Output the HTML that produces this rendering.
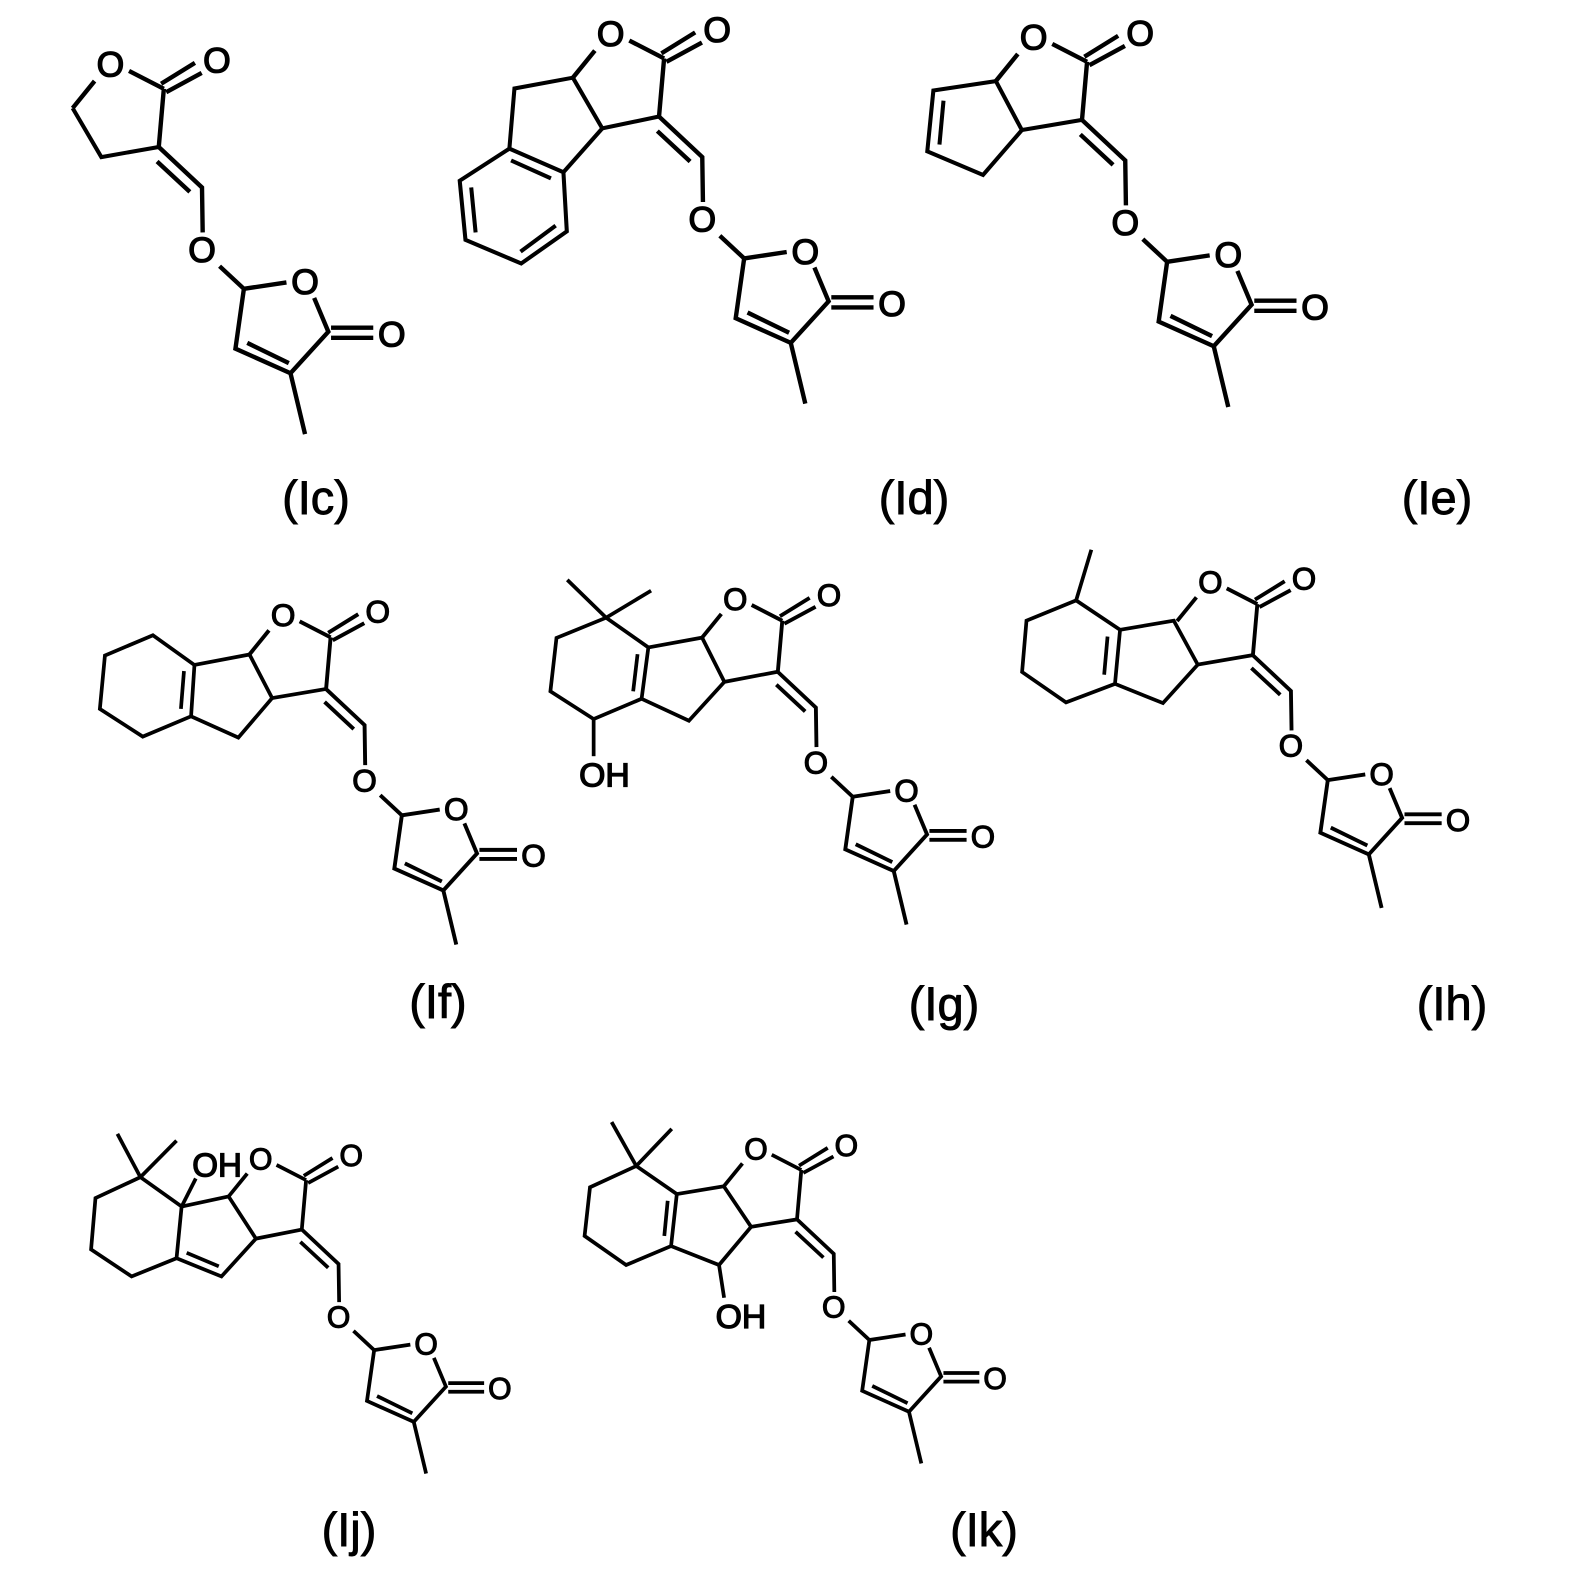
<!DOCTYPE html>
<html><head><meta charset="utf-8"><style>
html,body{margin:0;padding:0;background:#fff;}
svg{display:block;}
text{font-family:"Liberation Sans",Arial,sans-serif;fill:#000;stroke:#000;stroke-width:4;}
.lab text{stroke-width:0.9;}
</style></head><body>
<svg width="1587" height="1574" viewBox="0 0 1587 1574" xmlns="http://www.w3.org/2000/svg">
<defs>
<g id="m" fill="none" stroke="#000" stroke-width="13" stroke-linecap="butt" stroke-linejoin="miter">
<polyline points="-237,-592 -252,-420 -124,-300 -122,-167"/>
<line x1="-237" y1="-592" x2="-340" y2="-645"/>
<line x1="-245" y1="-607" x2="-145" y2="-669"/>
<line x1="-230" y1="-582" x2="-125" y2="-639"/>
<line x1="-442" y1="-615" x2="-507" y2="-535"/>
<line x1="-257" y1="-377" x2="-160" y2="-287"/>
<line x1="-72" y1="-67" x2="0" y2="0"/>
<line x1="0" y1="0" x2="126" y2="-19"/>
<polyline points="208,27 250,127 138,250 -25,177 0,0"/>
<line x1="258" y1="115" x2="383" y2="115"/>
<line x1="258" y1="145" x2="383" y2="145"/>
<line x1="10" y1="160" x2="133" y2="220"/>
<line x1="138" y1="250" x2="181" y2="430"/>
</g>
</defs>
<rect width="1587" height="1574" fill="#fff"/>

<!-- Ic -->
<g transform="translate(0,0) scale(0.3378)" fill="none" stroke="#000" stroke-width="12">
<polyline points="215,320 300,465 470,435"/>
<g transform="translate(722,855)"><use href="#m"/>
<text x="-395" y="-629" font-size="105" text-anchor="middle">O</text>
<text x="-80" y="-641" font-size="105" text-anchor="middle">O</text>
<text x="-124" y="-79" font-size="105" text-anchor="middle">O</text>
<text x="181" y="16" font-size="105" text-anchor="middle">O</text>
<text x="438" y="171" font-size="105" text-anchor="middle">O</text></g>
</g>

<!-- Id -->
<g transform="translate(430,0) scale(0.3378)" fill="none" stroke="#000" stroke-width="12">
<polyline points="423,230 250,262 235,440"/>
<polyline points="423,230 510,380 678,345"/>
<line x1="510" y1="380" x2="395" y2="510"/>
<polygon points="235,440 395,510 405,685 270,780 105,710 88,535"/>
<line x1="240" y1="475" x2="358" y2="528"/>
<line x1="372" y1="668" x2="268" y2="745"/>
<line x1="122" y1="555" x2="135" y2="688"/>
<g transform="translate(930,765)"><use href="#m"/>
<text x="-395" y="-629" font-size="105" text-anchor="middle">O</text>
<text x="-80" y="-641" font-size="105" text-anchor="middle">O</text>
<text x="-124" y="-79" font-size="105" text-anchor="middle">O</text>
<text x="181" y="16" font-size="105" text-anchor="middle">O</text>
<text x="438" y="171" font-size="105" text-anchor="middle">O</text></g>
</g>

<!-- Ie -->
<g transform="translate(880,0) scale(0.3378)" fill="none" stroke="#000" stroke-width="12">
<polyline points="343,240 158,268 140,448 305,518 420,385 343,240"/>
<line x1="420" y1="385" x2="598" y2="355"/>
<line x1="188" y1="298" x2="176" y2="428"/>
<g transform="translate(850,775)"><use href="#m"/>
<text x="-395" y="-629" font-size="105" text-anchor="middle">O</text>
<text x="-80" y="-641" font-size="105" text-anchor="middle">O</text>
<text x="-124" y="-79" font-size="105" text-anchor="middle">O</text>
<text x="181" y="16" font-size="105" text-anchor="middle">O</text>
<text x="438" y="171" font-size="105" text-anchor="middle">O</text></g>
</g>

<!-- If -->
<g transform="translate(60,540) scale(0.3378)" fill="none" stroke="#000" stroke-width="11">
<polyline points="398,370 561,339 628,468 788,441"/>
<polyline points="628,468 528,585 388,522 398,370 275,282 133,342 118,500 245,582 388,522"/>
<line x1="367" y1="388" x2="358" y2="500"/>
<g transform="translate(1012,815) scale(0.89)"><use href="#m"/>
<text x="-395" y="-629" font-size="105" text-anchor="middle">O</text>
<text x="-80" y="-641" font-size="105" text-anchor="middle">O</text>
<text x="-124" y="-79" font-size="105" text-anchor="middle">O</text>
<text x="181" y="16" font-size="105" text-anchor="middle">O</text>
<text x="438" y="171" font-size="105" text-anchor="middle">O</text></g>
</g>

<!-- Ig -->
<g transform="translate(520,540) scale(0.3378)" fill="none" stroke="#000" stroke-width="11">
<polyline points="380,318 539,289 605,420 763,390"/>
<polyline points="605,420 500,535 360,470 380,318 255,230 108,290 90,448 218,530 360,470"/>
<line x1="348" y1="338" x2="335" y2="448"/>
<line x1="255" y1="230" x2="140" y2="118"/>
<line x1="255" y1="230" x2="388" y2="150"/>
<line x1="218" y1="530" x2="218" y2="640"/>
<text x="250" y="730" font-size="100" text-anchor="middle">OH</text>
<g transform="translate(985,760) scale(0.88)"><use href="#m"/>
<text x="-395" y="-629" font-size="105" text-anchor="middle">O</text>
<text x="-80" y="-641" font-size="105" text-anchor="middle">O</text>
<text x="-124" y="-79" font-size="105" text-anchor="middle">O</text>
<text x="181" y="16" font-size="105" text-anchor="middle">O</text>
<text x="438" y="171" font-size="105" text-anchor="middle">O</text></g>
</g>

<!-- Ih -->
<g transform="translate(990,520) scale(0.3378)" fill="none" stroke="#000" stroke-width="11">
<polyline points="385,325 544,298 615,428 778,400"/>
<polyline points="615,428 512,542 370,485 385,325 255,238 108,298 95,450 225,540 370,485"/>
<line x1="348" y1="345" x2="338" y2="458"/>
<line x1="255" y1="238" x2="300" y2="88"/>
<g transform="translate(1000,770) scale(0.88)"><use href="#m"/>
<text x="-395" y="-629" font-size="105" text-anchor="middle">O</text>
<text x="-80" y="-641" font-size="105" text-anchor="middle">O</text>
<text x="-124" y="-79" font-size="105" text-anchor="middle">O</text>
<text x="181" y="16" font-size="105" text-anchor="middle">O</text>
<text x="438" y="171" font-size="105" text-anchor="middle">O</text></g>
</g>

<!-- Ij -->
<g transform="translate(60,1090) scale(0.3378)" fill="none" stroke="#000" stroke-width="11">
<polyline points="360,345 499,315 580,440 716,413"/>
<polyline points="580,440 478,552 345,498 360,345 238,258 105,320 92,472 212,552 345,498"/>
<line x1="375" y1="482" x2="470" y2="522"/>
<line x1="238" y1="258" x2="170" y2="130"/>
<line x1="238" y1="258" x2="345" y2="150"/>
<line x1="360" y1="345" x2="402" y2="262"/>
<text x="465" y="256" font-size="98" text-anchor="middle">OH</text>
<g transform="translate(930,770) scale(0.85)"><use href="#m"/>
<text x="-395" y="-629" font-size="105" text-anchor="middle">O</text>
<text x="-80" y="-641" font-size="105" text-anchor="middle">O</text>
<text x="-124" y="-79" font-size="105" text-anchor="middle">O</text>
<text x="181" y="16" font-size="105" text-anchor="middle">O</text>
<text x="438" y="171" font-size="105" text-anchor="middle">O</text></g>
</g>

<!-- Ik -->
<g transform="translate(540,1090) scale(0.3378)" fill="none" stroke="#000" stroke-width="11">
<polyline points="405,308 544,285 625,405 761,383"/>
<polyline points="625,405 530,518 388,462 405,308 285,225 148,288 132,432 255,518 388,462"/>
<line x1="378" y1="328" x2="368" y2="432"/>
<line x1="285" y1="225" x2="212" y2="95"/>
<line x1="285" y1="225" x2="390" y2="115"/>
<line x1="530" y1="518" x2="545" y2="615"/>
<text x="595" y="705" font-size="100" text-anchor="middle">OH</text>
<g transform="translate(975,740) scale(0.85)"><use href="#m"/>
<text x="-395" y="-629" font-size="105" text-anchor="middle">O</text>
<text x="-80" y="-641" font-size="105" text-anchor="middle">O</text>
<text x="-124" y="-79" font-size="105" text-anchor="middle">O</text>
<text x="181" y="16" font-size="105" text-anchor="middle">O</text>
<text x="438" y="171" font-size="105" text-anchor="middle">O</text></g>
</g>

<!-- labels -->
<g class="lab" font-size="47" text-anchor="middle">
<text x="316" y="514">(Ic)</text>
<text x="914" y="514">(Id)</text>
<text x="1437" y="514">(Ie)</text>
<text x="438" y="1018">(If)</text>
<text x="944" y="1020">(Ig)</text>
<text x="1452" y="1020">(Ih)</text>
<text x="349" y="1546">(Ij)</text>
<text x="984" y="1546">(Ik)</text>
</g>
</svg>
</body></html>
